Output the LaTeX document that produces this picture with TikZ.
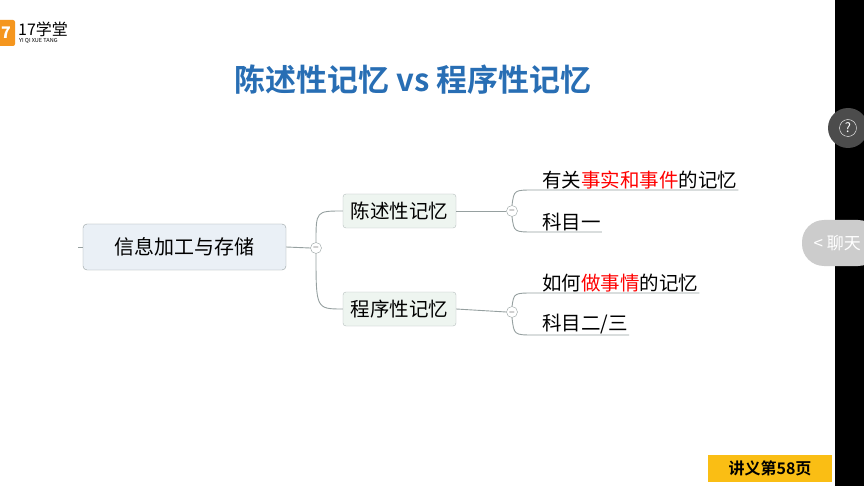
\documentclass[tikz,border=0pt]{standalone}
\usepackage{fontspec}
\setmainfont{Noto Sans CJK SC}
\newfontfamily\cjkbold{Noto Sans CJK SC Bold}
\usetikzlibrary{positioning,calc}
\definecolor{titleblue}{RGB}{40,110,180}
\definecolor{rootfill}{RGB}{234,240,246}
\definecolor{subfill}{RGB}{238,245,240}
\definecolor{linegrey}{RGB}{150,160,160}
\definecolor{logoorange}{RGB}{245,150,30}
\definecolor{badgeyellow}{RGB}{250,190,20}
\tikzset{
  rootbox/.style={draw=linegrey, rounded corners=4pt, fill=rootfill, minimum width=203pt, minimum height=46pt, font=\fontsize{20}{22}\selectfont},
  subbox/.style={draw=linegrey!70, rounded corners=3pt, fill=subfill, minimum width=113pt, minimum height=34pt, font=\fontsize{19.5}{21}\selectfont},
  leaf/.style={anchor=south west, inner sep=1pt, font=\fontsize{19.5}{21}\selectfont},
  fold/.style={circle, draw=linegrey, fill=white, inner sep=0pt, minimum size=11pt, font=\fontsize{8}{8}\selectfont},
  branch/.style={draw=linegrey, line width=0.9pt}
}
\begin{document}
\begin{tikzpicture}[x=1pt,y=-1pt]
  \useasboundingbox (0,0) rectangle (864,486);
  \fill[white] (0,0) rectangle (864,486);
  % right side strip
  \fill[black] (835,0) rectangle (864,486);
  \fill[black!70] (848,128) circle (20);
  \node[circle, draw=white, inner sep=0pt, minimum size=17pt, text=white, font=\fontsize{13}{13}\selectfont] (help) at (848,128) {?};
  \fill[black!20, rounded corners=22pt] (802,220) rectangle (880,266);
  \node[text=white, font=\fontsize{17}{17}\selectfont, anchor=west] (chat) at (810,243) {\textless\ 聊天};
  % logo
  \fill[logoorange, rounded corners=2pt] (-4,20) rectangle (15,46);
  \node[text=white, font=\fontsize{16}{16}\selectfont\bfseries] (logo) at (6,33) {7};
  \node[anchor=west, inner sep=0pt, font=\fontsize{16}{16}\selectfont] (brand) at (18,29) {17学堂};
  \node[anchor=west, inner sep=0pt, font=\fontsize{5.5}{6}\selectfont] (brandsub) at (19,41) {YI QI XUE TANG};
  % title
  \node[text=titleblue, font=\cjkbold\fontsize{31}{34}\selectfont] (title) at (413,80) {陈述性记忆 vs 程序性记忆};
  % mind map
  \node[rootbox] (root) at (184.5,247) {信息加工与存储};
  \node[subbox] (decl) at (399.5,211) {陈述性记忆};
  \node[subbox] (proc) at (399.5,309) {程序性记忆};
  \node[fold] (f0) at (316,248) {$-$};
  \node[fold] (f1) at (512,211) {$-$};
  \node[fold] (f2) at (512,312) {$-$};
  \node[leaf] (d1) at (541,190) {有关\textcolor{red}{事实和事件}的记忆};
  \node[leaf] (d2) at (541,232) {科目一};
  \node[leaf] (p1) at (541,293) {如何\textcolor{red}{做事情}的记忆};
  \node[leaf] (p2) at (541,335) {科目二/三};
  \draw[branch] (root.west) -- ++(-5,0);
  \draw[branch] (root.east) -- (f0.west);
  \draw[branch] (f0.north) .. controls (316,211) .. (decl.west);
  \draw[branch] (f0.south) .. controls (316,309) .. (proc.west);
  \draw[branch] (decl.east) -- (f1.west);
  \draw[branch] (proc.east) -- (f2.west);
  \draw[branch] (f1.north) .. controls (514,190) .. (534,190) -- (d1.south east);
  \draw[branch] (f1.south) .. controls (514,232) .. (534,232) -- (d2.south east);
  \draw[branch] (f2.north) .. controls (514,293) .. (534,293) -- (p1.south east);
  \draw[branch] (f2.south) .. controls (514,335) .. (534,335) -- (p2.south east);
  % page badge
  \fill[badgeyellow] (708,455) rectangle (832,482);
  \node[font=\cjkbold\fontsize{16}{16}\selectfont] (page) at (770,468.5) {讲义第58页};
\end{tikzpicture}
\end{document}
